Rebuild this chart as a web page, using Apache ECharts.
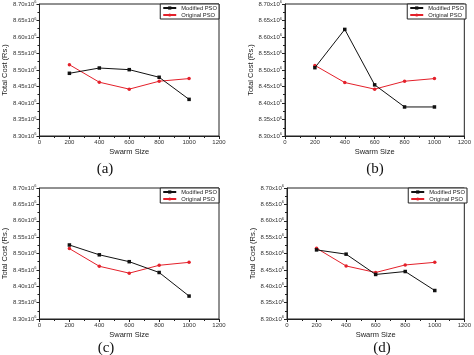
<!DOCTYPE html>
<html><head><meta charset="utf-8">
<script src="https://cdn.jsdelivr.net/npm/echarts@6/dist/echarts.min.js"></script>
<style>html,body{margin:0;padding:0;background:#fff}#c{width:474px;height:355px}</style>
</head><body><div id="c"></div>
<script>
const swarmSizes = [200, 400, 600, 800, 1000];
const modifiedA = [8.490, 8.506, 8.501, 8.478, 8.411];
const originalA = [8.516, 8.463, 8.442, 8.466, 8.474];
const modifiedB = [8.507, 8.623, 8.455, 8.388, 8.388];
const originalB = [8.514, 8.462, 8.442, 8.466, 8.474];
const modifiedC = [8.526, 8.496, 8.475, 8.442, 8.370];
const originalC = [8.515, 8.461, 8.440, 8.464, 8.473];
const modifiedD = [8.511, 8.498, 8.436, 8.445, 8.387];
const originalD = [8.516, 8.462, 8.442, 8.465, 8.473];
const panelLabels = ['(a)', '(b)', '(c)', '(d)'];
const seriesNames = ['Modified PSO', 'Original PSO'];

const panels = [
  {mod: modifiedA, orig: originalA, grid: {left: 39, top: 4, width: 180, height: 132}, legend: {right: 255, top: 4}, label: {x: 100, y: 157}},
  {mod: modifiedB, orig: originalB, grid: {left: 285, top: 4, width: 181, height: 132}, legend: {right: 8, top: 4}, label: {x: 370, y: 157}},
  {mod: modifiedC, orig: originalC, grid: {left: 37, top: 188, width: 182, height: 131}, legend: {right: 255, top: 188}, label: {x: 101, y: 336}},
  {mod: modifiedD, orig: originalD, grid: {left: 287, top: 188, width: 180, height: 131}, legend: {right: 7, top: 188}, label: {x: 377, y: 336}}
];

const ax = '#222';
const grids = [], xAxes = [], yAxes = [], series = [], legends = [], titles = [];
panels.forEach((p, i) => {
  grids.push(Object.assign({show: true, borderColor: ax, borderWidth: 1, backgroundColor: 'transparent'}, p.grid));
  xAxes.push({
    gridIndex: i, type: 'value', min: 0, max: 1200, interval: 200,
    name: 'Swarm Size', nameLocation: 'middle', nameGap: 12,
    nameTextStyle: {fontSize: 7.5, color: '#222', fontFamily: 'Liberation Sans'},
    axisLine: {show: true, onZero: false, lineStyle: {color: ax, width: 1}},
    axisTick: {show: true, inside: false, length: 3, lineStyle: {color: ax}},
    minorTick: {show: true, splitNumber: 2, length: 2, lineStyle: {color: ax}},
    axisLabel: {fontSize: 6, color: '#333', margin: 3, fontFamily: 'Liberation Sans', formatter: v => String(v)},
    splitLine: {show: false}
  });
  yAxes.push({
    gridIndex: i, type: 'value', min: 8.30, max: 8.70, interval: 0.05,
    name: 'Total Cost (Rs.)', nameLocation: 'middle', nameGap: 30,
    nameTextStyle: {fontSize: 7.5, color: '#222', fontFamily: 'Liberation Sans'},
    axisLine: {show: true, lineStyle: {color: ax, width: 1}},
    axisTick: {show: true, inside: false, length: 3, lineStyle: {color: ax}},
    minorTick: {show: true, splitNumber: 2, length: 2, lineStyle: {color: ax}},
    axisLabel: {
      fontSize: 6, color: '#333', margin: 3,
      formatter: v => '{m|' + v.toFixed(2) + 'x10}{s|6}',
      rich: {m: {fontSize: 6, color: '#333', fontFamily: 'Liberation Sans'}, s: {fontSize: 4, color: '#333', verticalAlign: 'top', padding: [0, 0, 4, 0], fontFamily: 'Liberation Sans'}}
    },
    splitLine: {show: false}
  });
  series.push({
    name: seriesNames[0], type: 'line', xAxisIndex: i, yAxisIndex: i,
    data: swarmSizes.map((x, k) => [x, p.mod[k]]),
    symbol: 'rect', symbolSize: 3.5, showAllSymbol: true,
    lineStyle: {color: '#111', width: 1}, itemStyle: {color: '#111'}, z: 3
  });
  series.push({
    name: seriesNames[1], type: 'line', xAxisIndex: i, yAxisIndex: i,
    data: swarmSizes.map((x, k) => [x, p.orig[k]]),
    symbol: 'circle', symbolSize: 3.5, showAllSymbol: true,
    lineStyle: {color: '#e4202a', width: 1}, itemStyle: {color: '#e4202a'}, z: 2
  });
  legends.push({
    show: true,
    data: seriesNames, right: p.legend.right, top: p.legend.top, orient: 'vertical',
    itemWidth: 13, itemHeight: 4, itemGap: 1, padding: [1, 2, 1, 2],
    borderColor: ax, borderWidth: 1, backgroundColor: '#fff',
    textStyle: {fontSize: 5.8, color: '#222', fontFamily: 'Liberation Sans'}
  });
  titles.push({
    text: panelLabels[i], left: p.label.x, top: p.label.y, textAlign: 'center',
    textStyle: {fontSize: 15, fontWeight: 'normal', color: '#111', fontFamily: 'Liberation Serif'}
  });
});

const chart = echarts.init(document.getElementById('c'), null, {renderer: 'canvas'});
chart.setOption({
  animation: false,
  backgroundColor: '#fff',
  title: titles,
  grid: grids, xAxis: xAxes, yAxis: yAxes, legend: legends, series: series
});
</script></body></html>
